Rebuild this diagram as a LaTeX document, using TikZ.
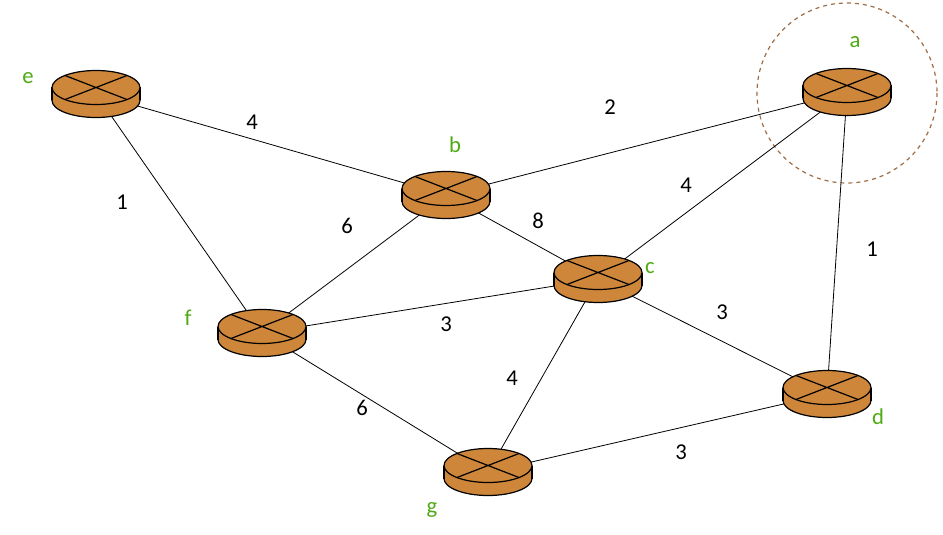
\documentclass[tikz,border=0pt]{standalone}
\usepackage{fontspec}
\setmainfont{Carlito}
\definecolor{rt}{RGB}{206,134,58}
\definecolor{lbl}{RGB}{80,170,20}
\definecolor{ring}{RGB}{160,110,70}
\tikzset{
  router/.pic={
    \fill[rt,draw=black,line width=0.9pt] (0,6.5) ellipse (44 and 17);
    \fill[rt] (-44,-6.5) rectangle (44,6.5);
    \draw[line width=0.9pt] (-44,-6.5)--(-44,6.5) (44,-6.5)--(44,6.5);
    \fill[rt,draw=black,line width=0.9pt] (0,-6.5) ellipse (44 and 17);
    \draw[line width=0.9pt] (-31,-18.5)--(31,5.5) (-31,5.5)--(31,-18.5);
  },
  rname/.style={text=lbl,font=\fontsize{17}{19}\selectfont},
  wt/.style={font=\fontsize{17}{19}\selectfont},
  link/.style={line width=0.6pt}
}
\begin{document}
\begin{tikzpicture}[x=0.75pt,y=-0.75pt]
\useasboundingbox (0,0) rectangle (943,535);
\fill[white] (0,0) rectangle (943,535);
\coordinate (e) at (96,94);
\coordinate (b) at (446,195);
\coordinate (a) at (847,92);
\coordinate (c) at (598,279);
\coordinate (f) at (262,333);
\coordinate (d) at (827,394);
\coordinate (g) at (488,472);
\draw[ring,dashed,line width=0.9pt] (847,93) circle (90);
\draw[link] (e)--(b) (e)--(f) (b)--(a) (b)--(f) (b)--(c) (a)--(c) (a)--(d)
  (f)--(c) (f)--(g) (c)--(g) (c)--(d) (g)--(d);
\foreach \n in {e,b,a,c,f,d,g} \pic at (\n) {router};
\node[rname] (le) at (28,78) {e};
\node[rname] (lb) at (455,145) {b};
\node[rname] (la) at (855,42) {a};
\node[rname] (lc) at (650,268) {c};
\node[rname] (lf) at (188,318) {f};
\node[rname] (ld) at (878,417) {d};
\node[rname] (lg) at (432,510) {g};
\node[wt] (w1) at (252,122) {4};
\node[wt] (w2) at (610,107) {2};
\node[wt] (w3) at (122,202) {1};
\node[wt] (w4) at (347,226) {6};
\node[wt] (w5) at (538,221) {8};
\node[wt] (w6) at (686,185) {4};
\node[wt] (w7) at (872,249) {1};
\node[wt] (w8) at (446,324) {3};
\node[wt] (w9) at (722,312) {3};
\node[wt] (w10) at (512,378) {4};
\node[wt] (w11) at (362,408) {6};
\node[wt] (w12) at (681,452) {3};
\end{tikzpicture}
\end{document}
